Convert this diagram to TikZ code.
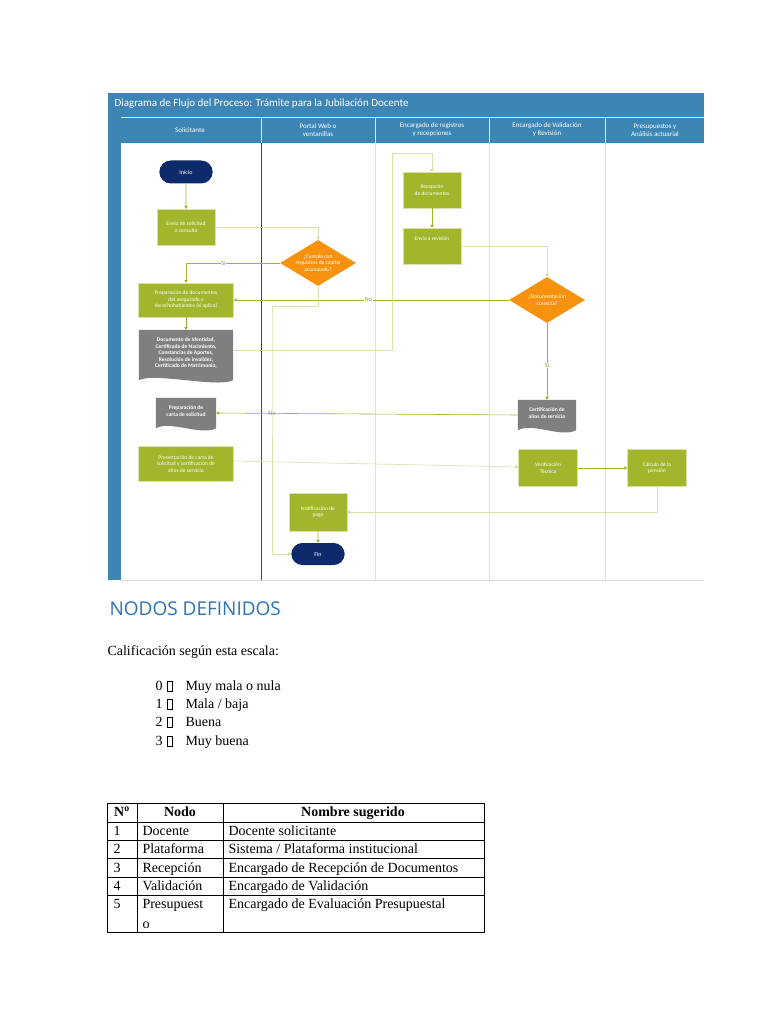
\documentclass[tikz,border=0pt]{standalone}
\usepackage{fontspec}
\setmainfont{Liberation Serif}
\newfontfamily\diafont{Carlito}
\usetikzlibrary{shapes.geometric,shapes.misc,arrows.meta}
\definecolor{laneblue}{HTML}{3D85B5}
\definecolor{leaf}{HTML}{A2B52C}
\definecolor{paleleaf}{HTML}{D9E2A8}
\definecolor{navy}{HTML}{0D2A6B}
\definecolor{amber}{HTML}{F7920F}
\definecolor{docgray}{HTML}{7F7F7F}
\definecolor{headblue}{HTML}{2E74B5}
\tikzstyle{process} = [rectangle, fill = leaf, draw = paleleaf, text = white,
	align = center, font = \diafont\fontsize{5.5}{6.5}\selectfont, inner sep = 1pt]
\tikzstyle{term} = [rounded rectangle, fill = navy, text = white,
	minimum width = 60pt, minimum height = 23pt, font = \diafont\fontsize{6}{7}\selectfont]
\tikzstyle{decision} = [diamond, fill = amber, text = white, aspect = 1.6,
	inner sep = 0pt, minimum width = 76pt, minimum height = 46pt, align = center,
	font = \diafont\fontsize{5.5}{6.5}\selectfont]
\tikzstyle{docu} = [rectangle, inner sep = 0pt]
\tikzstyle{doctext} = [text = white, align = center,
	font = \diafont\bfseries\fontsize{5.5}{6.5}\selectfont]
\tikzstyle{arrow} = [leaf, line width = 0.6pt, -{Triangle[length = 3pt, width = 3.5pt]}]
\tikzstyle{faint} = [paleleaf, line width = 0.6pt, -{Triangle[length = 3pt, width = 3.5pt, fill = leaf]}]
\tikzstyle{lbl} = [leaf!80!black, font = \diafont\fontsize{6}{7}\selectfont, fill = white, inner sep = 0.5pt]
\tikzstyle{lane} = [text = white, align = center, font = \diafont\fontsize{7}{8}\selectfont]
\newcommand{\docshape}[5]{%
	\node (#1) [docu, minimum width = #3, minimum height = #4] at (#2) {};
	\fill [docgray] (#1.north west) -- (#1.north east) -- (#1.south east)
		.. controls ([xshift = -15pt, yshift = -8pt]#1.south east)
		and ([xshift = 15pt, yshift = 8pt]#1.south west) .. (#1.south west) -- cycle;
	\node [doctext] at ([yshift = 2pt]#1.center) {#5};}
\newcommand{\escala}[3]{%
	\node (e#1) [anchor = base west, font = \fontsize{14}{16}\selectfont] at (152,#2) {#1};
	\draw [line width = 0.4pt] ([xshift = 1pt, yshift = -1pt]e#1.base east) rectangle ++(5.5pt,10pt);
	\node [anchor = base west, font = \fontsize{14}{16}\selectfont] at (182,#2) {#3};}

\begin{document}
\begin{tikzpicture}[x = 1pt, y = -1pt]
\useasboundingbox [fill = white] (0,0) rectangle (768,1024);

% swimlanes
\fill [laneblue] (108,93) rectangle (704,143);
\fill [laneblue] (108,93) rectangle (121,580);
\node [lane, anchor = west, font = \diafont\fontsize{11}{12}\selectfont] at (111,104)
	{Diagrama de Flujo del Proceso: Trámite para la Jubilación Docente};
\draw [white!80!laneblue, line width = 0.4pt] (121,117) -- (704,117);
\foreach \x in {261,375,489,605}
	\draw [white!80!laneblue, line width = 0.4pt] (\x,117) -- (\x,143);
\draw [laneblue!60!black, line width = 0.8pt] (261,143) -- (261,580);
\foreach \x in {375,489,605}
	\draw [black!12, line width = 0.8pt] (\x,143) -- (\x,580);
\draw [black!15] (121,580) -- (704,580);
\node [lane] at (190,130) {Solicitante};
\node [lane] at (318,130) {Portal Web o\\ventanillas};
\node [lane] at (432,130) {Encargado de registros\\y recepciones};
\node [lane] at (547,130) {Encargado de Validación\\y Revisión};
\node [lane] at (655,130) {Presupuestos y\\Análisis actuarial};

% nodos
\node (inicio) [term] at (186,172) {Inicio};
\node (envio) [process, minimum width = 58pt, minimum height = 36pt] at (186,227) {Envío de solicitud\\o consulta};
\node (cumple) [decision] at (318,263) {¿Cumple con\\requisitos de capital\\acumulado?};
\node (prepdoc) [process, minimum width = 95pt, minimum height = 34pt] at (186,300)
	{Preparación de documentos\\del asegurado y\\derechohabientes (si aplica)};
\docshape{docs}{186,355}{94pt}{50pt}{Documento de Identidad,\\Certificado de Nacimiento,\\Constancias de Aportes,\\Resolución de invalidez,\\Certificado de Matrimonio,~}
\docshape{carta}{186,413}{60pt}{30pt}{Preparación de\\carta de solicitud}
\node (present) [process, minimum width = 95pt, minimum height = 35pt] at (186,464)
	{Presentación de carta de\\solicitud y certificación de\\años de servicio};
\node (notif) [process, minimum width = 58pt, minimum height = 38pt] at (318,512) {Notificación de\\pago};
\node (fin) [term, minimum height = 22pt] at (318,554) {Fin};
\node (recep) [process, minimum width = 58pt, minimum height = 36pt] at (432,190) {Recepción\\de documentos};
\node (envrev) [process, minimum width = 58pt, minimum height = 36pt] at (432,246) {Envío a revisión\\[8pt]};
\node (correcta) [decision] at (547,300) {¿Documentación\\correcta?};
\docshape{certif}{547,415}{58pt}{30pt}{Certificación de\\años de servicio}
\node (verif) [process, minimum width = 59pt, minimum height = 37pt] at (548,468) {Verificación\\Técnica};
\node (calculo) [process, minimum width = 59pt, minimum height = 37pt] at (657,468) {Cálculo de la\\pensión};

% conectores
\draw [arrow] (inicio) -- (envio);
\draw [faint] (envio.east) -| (cumple.north);
\draw [arrow] (cumple.west) -| node [lbl, pos = 0.3] {Sí} (prepdoc.north);
\draw [arrow] (prepdoc) -- (docs.north);
\draw [arrow] (correcta.west) -- node [lbl, pos = 0.51] {No} (prepdoc.east);
\draw [faint] (cumple.south) -- ++(0,20) -| (272,320) |- node [lbl, pos = 0.2] {No} (fin.west);
\draw [faint] ([yshift = 5pt]docs.east) -| (392,153) -| (recep.north);
\draw [arrow] (recep) -- (envrev);
\draw [faint] (envrev.east) -| (correcta.north);
\draw [arrow] (correcta.south) -- node [lbl, pos = 0.55] {Sí} (certif.north);
\draw [arrow] (certif.west) -- (carta.east);
\draw [faint] ([yshift = 3pt]present.east) -- ([yshift = 1pt]verif.west);
\draw [arrow] (verif) -- (calculo);
\draw [faint] (calculo.south) |- (notif.east);
\draw [arrow] (notif) -- (fin);

% nodos definidos
\node (titulo) [anchor = base west, text = headblue, font = \fontspec{Open Sans}\fontsize{19}{22}\selectfont] at (106,615) {NODOS DEFINIDOS};
\node (calif) [anchor = base west, font = \fontsize{14}{16}\selectfont] at (104,655) {Calificación según esta escala:};
\escala{0}{690}{Muy mala o nula}
\escala{1}{708}{Mala / baja}
\escala{2}{726}{Buena}
\escala{3}{745}{Muy buena}

% tabla
\draw [line width = 0.6pt] (107,803) rectangle (484,932);
\foreach \y in {822,840,858,877,895}
	\draw [line width = 0.6pt] (107,\y) -- (484,\y);
\foreach \x in {137,223}
	\draw [line width = 0.6pt] (\x,803) -- (\x,932);
\foreach \n/\a/\b/\c [count = \i] in {
	{N\textsuperscript{o}}/Nodo/{Nombre sugerido}/1,
	1/Docente/{Docente solicitante}/0,
	2/Plataforma/{Sistema / Plataforma institucional}/0,
	3/Recepción/{Encargado de Recepción de Documentos}/0,
	4/Validación/{Encargado de Validación}/0,
	5/Presupuest/{Encargado de Evaluación Presupuestal}/0}
{
	\pgfmathsetmacro{\yb}{803 + 18.4*\i - 4.5}
	\ifnum\c=1
		\node [anchor = base, font = \bfseries\fontsize{14}{16}\selectfont] at (122,\yb) {\n};
		\node [anchor = base, font = \bfseries\fontsize{14}{16}\selectfont] at (180,\yb) {\a};
		\node [anchor = base, font = \bfseries\fontsize{14}{16}\selectfont] at (353,\yb) {\b};
	\else
		\node [anchor = base west, font = \fontsize{14}{16}\selectfont] at (110,\yb) {\n};
		\node [anchor = base west, font = \fontsize{14}{16}\selectfont] at (139,\yb) {\a};
		\node [anchor = base west, font = \fontsize{14}{16}\selectfont] at (225,\yb) {\b};
	\fi
}
\node [anchor = base west, font = \fontsize{14}{16}\selectfont] at (139,928) {o};
\end{tikzpicture}
\end{document}
